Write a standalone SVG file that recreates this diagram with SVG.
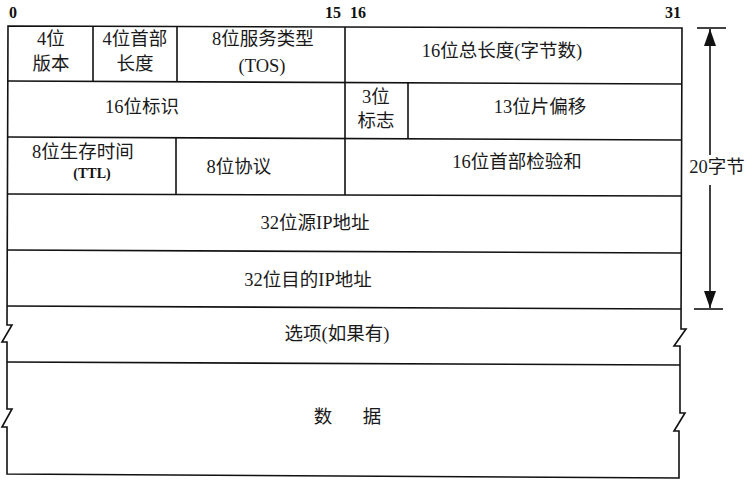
<svg xmlns="http://www.w3.org/2000/svg" width="748" height="489" viewBox="0 0 748 489">
<style>
.ln{stroke:#111;stroke-width:1.6;fill:none}
.t{font-family:"Liberation Serif","Noto Sans CJK SC",serif;font-size:18.5px;fill:#1a1a1a;text-anchor:middle}
.b{font-family:"Liberation Serif","Noto Sans CJK SC",serif;font-size:16px;font-weight:bold;fill:#111;text-anchor:middle}
</style>
<defs>
<marker id="ah" viewBox="0 0 17 12" refX="17" refY="6" markerWidth="17" markerHeight="12" markerUnits="userSpaceOnUse" orient="auto">
<path d="M0,0 L17,6 L0,12 Z" fill="#111"/>
</marker>
</defs>
<rect width="748" height="489" fill="#fff"/>
<g id="bits">
<text class="b" x="13" y="18">0</text>
<text class="b" x="333" y="18">15</text>
<text class="b" x="358" y="18">16</text>
<text class="b" x="673" y="18">31</text>
</g>
<g id="frame" class="ln">
<path d="M8,26 L7,325 L12,325 L2,342 L7,342 L7,409 L12,409 L2,427 L7,427 L7,474 L679,478 L679,431 L674,431 L685,413 L680,413 L680,346 L674,346 L686,329 L681,329 L682,28 Z"/>
<line x1="8" y1="81" x2="682" y2="84"/>
<line x1="8" y1="137" x2="682" y2="140"/>
<line x1="8" y1="194" x2="681" y2="196"/>
<line x1="7" y1="250" x2="681" y2="253"/>
<line x1="7" y1="306" x2="681" y2="309"/>
<line x1="7" y1="362" x2="680" y2="365"/>
<line x1="93" y1="26" x2="93" y2="81"/>
<line x1="177" y1="26" x2="177" y2="81"/>
<line x1="345" y1="27" x2="345" y2="82"/>
<line x1="345" y1="82" x2="345" y2="138"/>
<line x1="408" y1="82" x2="408" y2="138"/>
<line x1="176" y1="138" x2="176" y2="195"/>
<line x1="345" y1="138" x2="345" y2="195"/>
</g>
<g id="version"><text class="t" x="51" y="45">4位</text><text class="t" x="51" y="70">版本</text></g>
<g id="hlen"><text class="t" x="135" y="45">4位首部</text><text class="t" x="135" y="70">长度</text></g>
<g id="tos"><text class="t" x="263" y="45">8位服务类型</text><text class="t" x="262" y="72">(TOS)</text></g>
<g id="totlen"><text class="t" x="502" y="57">16位总长度(字节数)</text></g>
<g id="ident"><text class="t" x="142" y="113">16位标识</text></g>
<g id="flags"><text class="t" x="376" y="103">3位</text><text class="t" x="376" y="127">标志</text></g>
<g id="frag"><text class="t" x="540" y="113">13位片偏移</text></g>
<g id="ttl"><text class="t" x="83" y="158">8位生存时间</text><text class="b" x="92" y="178" style="font-size:14px">(TTL)</text></g>
<g id="proto"><text class="t" x="239" y="173">8位协议</text></g>
<g id="cksum"><text class="t" x="517" y="168">16位首部检验和</text></g>
<g id="src"><text class="t" x="315" y="229">32位源IP地址</text></g>
<g id="dst"><text class="t" x="308" y="286">32位目的IP地址</text></g>
<g id="opts"><text class="t" x="337" y="340">选项(如果有)</text></g>
<g id="data"><text class="t" x="323" y="423">数</text><text class="t" x="372" y="423">据</text></g>
<g id="connectors">
<line class="ln" x1="697" y1="28" x2="726" y2="28"/>
<line class="ln" x1="694" y1="309" x2="723" y2="309"/>
<line class="ln" x1="710" y1="155" x2="710" y2="29" marker-end="url(#ah)"/>
<line class="ln" x1="710" y1="185" x2="710" y2="308" marker-end="url(#ah)"/>
</g>
<g id="size"><text class="t" x="717" y="173">20字节</text></g>
</svg>
